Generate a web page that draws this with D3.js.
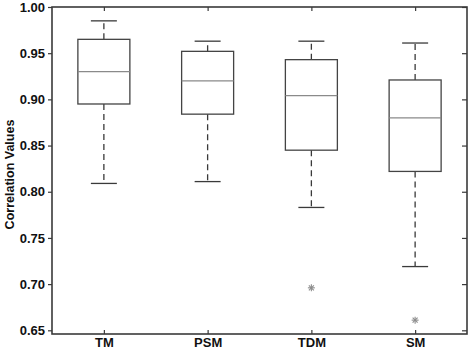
<!DOCTYPE html>
<html>
<head>
<meta charset="utf-8">
<script src="https://cdn.jsdelivr.net/npm/d3@7"></script>
<style>
  body { margin: 0; background: #fff; }
  svg { display: block; font-family: "Liberation Sans", Arial, sans-serif; }
</style>
</head>
<body>
<div id="chart"></div>
<script>
// box plot stats
const categories = ["TM", "PSM", "TDM", "SM"];
const whiskerHigh = [0.985, 0.963, 0.963, 0.961];
const q3 = [0.965, 0.952, 0.943, 0.921];
const medians = [0.930, 0.920, 0.904, 0.880];
const q1 = [0.895, 0.884, 0.845, 0.822];
const whiskerLow = [0.809, 0.811, 0.783, 0.719];
const outliers = [[], [], [0.696], [0.661]];
const yTicks = [0.65, 0.70, 0.75, 0.80, 0.85, 0.90, 0.95, 1.00];

const width = 474, height = 352;
const margin = { top: 7, right: 7, bottom: 18, left: 52 };

const svg = d3.select("#chart").append("svg")
  .attr("width", width)
  .attr("height", height);

const x = d3.scalePoint()
  .domain(categories)
  .range([margin.left, width - margin.right])
  .padding(0.5);

const y = d3.scaleLinear()
  .domain([0.646, 1.0])
  .range([height - margin.bottom, margin.top]);

const boxes = categories.map((c, i) => ({
  cat: c, hi: whiskerHigh[i], q3: q3[i], med: medians[i],
  q1: q1[i], lo: whiskerLow[i], out: outliers[i]
}));

const boxHalf = 26, capHalf = 13;
const dark = "#3a3a3a";

const g = svg.append("g");

// whiskers (dashed)
g.selectAll(".whisk-up").data(boxes).join("line")
  .attr("x1", d => x(d.cat)).attr("x2", d => x(d.cat))
  .attr("y1", d => y(d.q3)).attr("y2", d => y(d.hi))
  .attr("stroke", dark).attr("stroke-width", 1.3)
  .attr("stroke-dasharray", "6,4");
g.selectAll(".whisk-dn").data(boxes).join("line")
  .attr("x1", d => x(d.cat)).attr("x2", d => x(d.cat))
  .attr("y1", d => y(d.q1)).attr("y2", d => y(d.lo))
  .attr("stroke", dark).attr("stroke-width", 1.3)
  .attr("stroke-dasharray", "6,4");

// caps
["hi", "lo"].forEach(k => {
  g.selectAll(".cap-" + k).data(boxes).join("line")
    .attr("x1", d => x(d.cat) - capHalf).attr("x2", d => x(d.cat) + capHalf)
    .attr("y1", d => y(d[k])).attr("y2", d => y(d[k]))
    .attr("stroke", dark).attr("stroke-width", 1.3);
});

// boxes
g.selectAll(".box").data(boxes).join("rect")
  .attr("x", d => x(d.cat) - boxHalf)
  .attr("width", boxHalf * 2)
  .attr("y", d => y(d.q3))
  .attr("height", d => y(d.q1) - y(d.q3))
  .attr("fill", "none")
  .attr("stroke", "#444")
  .attr("stroke-width", 1.3);

// medians
g.selectAll(".med").data(boxes).join("line")
  .attr("x1", d => x(d.cat) - boxHalf).attr("x2", d => x(d.cat) + boxHalf)
  .attr("y1", d => y(d.med)).attr("y2", d => y(d.med))
  .attr("stroke", "#8a8a8a").attr("stroke-width", 1.2);

// outliers as asterisks
const outPts = boxes.flatMap(d => d.out.map(v => ({ cat: d.cat, v })));
const star = g.selectAll(".out").data(outPts).join("g")
  .attr("transform", d => `translate(${x(d.cat)},${y(d.v)})`);
[0, 45, 90, 135].forEach(a => {
  star.append("line")
    .attr("x1", -3.5).attr("x2", 3.5)
    .attr("transform", `rotate(${a})`)
    .attr("stroke", "#8c8c8c").attr("stroke-width", 1.1);
});

// axes
const fmt = d3.format(".2f");
const axisL = svg.append("g")
  .attr("transform", `translate(${margin.left},0)`)
  .call(d3.axisLeft(y).tickValues(yTicks).tickFormat(fmt).tickSize(4).tickPadding(3));
const axisR = svg.append("g")
  .attr("transform", `translate(${width - margin.right},0)`)
  .call(d3.axisLeft(y).tickValues(yTicks).tickFormat("").tickSize(-5));
axisR.selectAll(".tick line").attr("x2", -5);
const axisB = svg.append("g")
  .attr("transform", `translate(0,${height - margin.bottom})`)
  .call(d3.axisBottom(x).tickSize(-4).tickPadding(4));
const axisT = svg.append("g")
  .attr("transform", `translate(0,${margin.top})`)
  .call(d3.axisTop(x).tickFormat("").tickSize(-4));

[axisL, axisR, axisB, axisT].forEach(a => {
  a.select(".domain").remove();
  a.selectAll(".tick line").attr("stroke", dark).attr("stroke-width", 1.2);
  a.selectAll("text")
    .attr("fill", "#111")
    .attr("font-size", 13)
    .attr("font-weight", "bold")
    .attr("font-family", "'Liberation Sans', Arial, sans-serif");
});

// frame
svg.append("rect")
  .attr("x", margin.left).attr("y", margin.top)
  .attr("width", width - margin.left - margin.right)
  .attr("height", height - margin.top - margin.bottom)
  .attr("fill", "none")
  .attr("stroke", dark)
  .attr("stroke-width", 1.6);

// y label
svg.append("text")
  .attr("transform", `translate(14,${(margin.top + height - margin.bottom) / 2 + 4}) rotate(-90)`)
  .attr("text-anchor", "middle")
  .attr("font-size", 12.5)
  .attr("font-weight", "bold")
  .attr("fill", "#111")
  .text("Correlation Values");
</script>
</body>
</html>
